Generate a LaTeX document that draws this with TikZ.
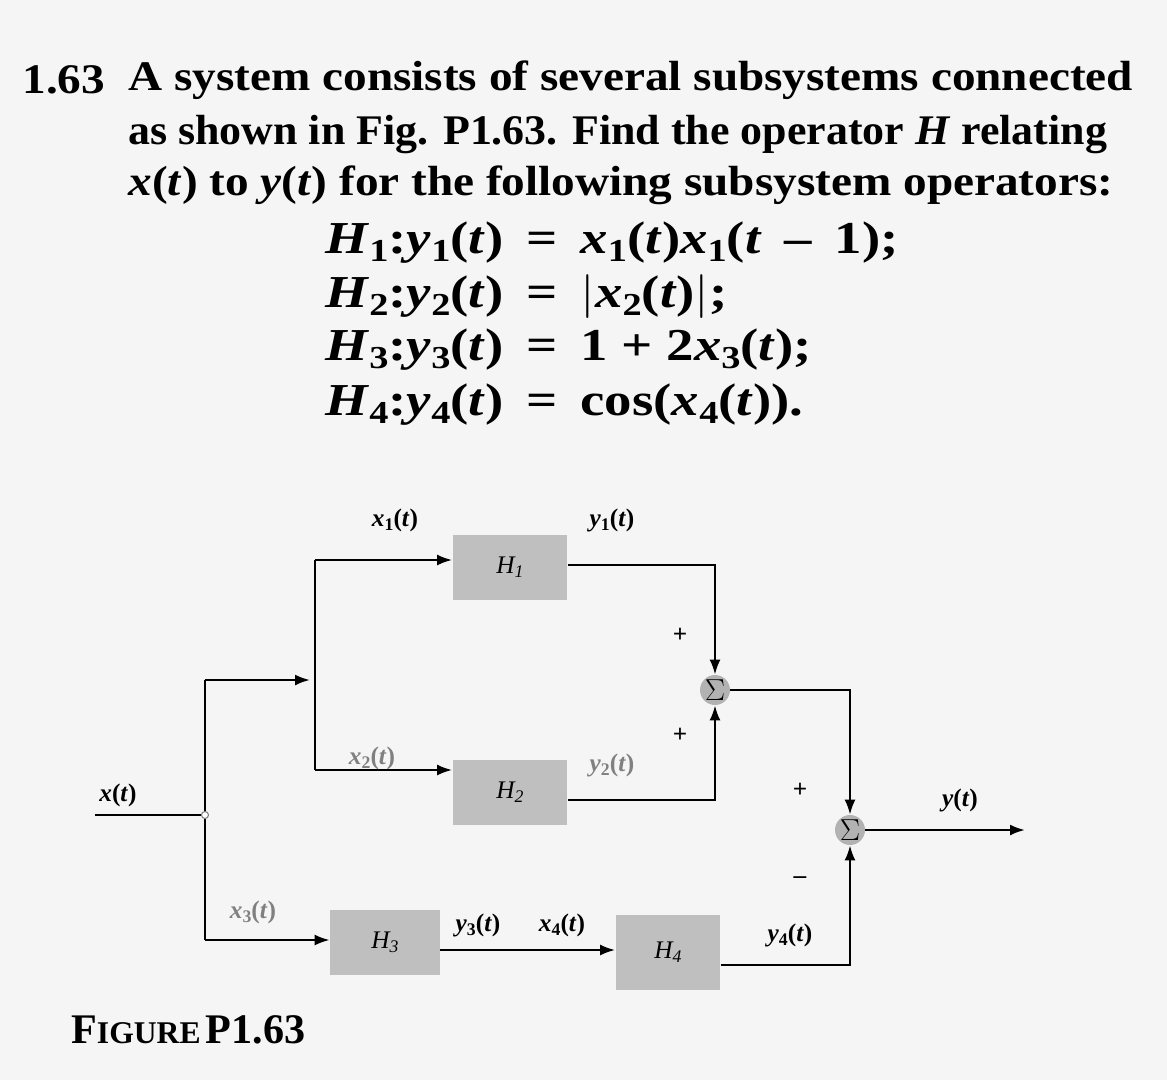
\documentclass[tikz,border=0pt]{standalone}
\usepackage{fontspec}
\setmainfont{Liberation Serif}
\usetikzlibrary{arrows.meta}
\newcommand{\sbs}[1]{\raisebox{-0.35ex}{\scalebox{0.7}{#1}}}
\begin{document}
\begin{tikzpicture}[x=0.02cm,y=-0.02cm,
  blk/.style={fill=black!25,draw=none,minimum width=2.3cm,minimum height=1.3cm,font=\itshape\Large},
  sm/.style={circle,fill=black!30,minimum size=0.6cm,inner sep=0pt,font=\LARGE\bfseries},
  ln/.style={line width=1.3pt},
  ar/.style={ln,-{Latex[length=3mm,width=2.2mm]}},
  lab/.style={font=\Large\bfseries},
  txt/.style={font=\fontsize{24}{28}\selectfont\bfseries,anchor=west,inner sep=0pt,xscale=1.12},
  eq/.style={font=\fontsize{26}{28}\selectfont\bfseries,anchor=west,inner sep=0pt,xscale=1.2}]
\useasboundingbox[fill=black!4] (0,0) rectangle (1167,1080);
% text
\node[txt] (n) at (22,80) {1.63};
\node[txt] (l1) at (128,80) {A system consists of several subsystems connected};
\node[txt,xscale=0.93] (l2) at (128,135) {as shown in Fig. P1.63. Find the operator \textit{H} relating};
\node[txt] (l3) at (128,185) {\textit{x}(\textit{t}) to \textit{y}(\textit{t}) for the following subsystem operators:};
\node[eq] (e1) at (325,243) {\textit{H}\sbs{1}:\textit{y}\sbs{1}(\textit{t}) \,=\, \textit{x}\sbs{1}(\textit{t})\textit{x}\sbs{1}(\textit{t} \,–\, 1);};
\node[eq] (e2) at (325,297) {\textit{H}\sbs{2}:\textit{y}\sbs{2}(\textit{t}) \,=\, $|$\textit{x}\sbs{2}(\textit{t})$|$;};
\node[eq] (e3) at (325,350) {\textit{H}\sbs{3}:\textit{y}\sbs{3}(\textit{t}) \,=\, 1 + 2\textit{x}\sbs{3}(\textit{t});};
\node[eq] (e4) at (325,405) {\textit{H}\sbs{4}:\textit{y}\sbs{4}(\textit{t}) \,=\, cos(\textit{x}\sbs{4}(\textit{t})).};
% blocks
\node[blk] (H1) at (510,567) {H\sbs{1}};
\node[blk] (H2) at (510,792) {H\sbs{2}};
\node[blk,minimum width=2.2cm] (H3) at (385,942) {H\sbs{3}};
\node[blk,minimum width=2.1cm,minimum height=1.5cm] (H4) at (668,952) {H\sbs{4}};
\node[sm] (S1) at (715,690) {$\Sigma$};
\node[sm] (S2) at (850,830) {$\Sigma$};
\coordinate (in) at (95,815);
\coordinate (j) at (205,815);
\coordinate (out) at (1025,830);
\draw[ln] (in) -- (j);
\draw[ln] (205,680) -- (205,940);
\draw[black!50,fill=white,line width=0.6pt] (j) circle (3.5);
\draw[ar] (205,680) -- (310,680);
\draw[ln] (315,560) -- (315,770);
\draw[ar] (315,560) -- (H1.west |- 0,560);
\draw[ar] (315,770) -- (H2.west |- 0,770);
\draw[ar] (205,940) -- (H3.west |- 0,940);
\draw[ar] (H1.east |- 0,565) -- (715,565) -- (S1.north);
\draw[ar] (H2.east |- 0,800) -- (715,800) -- (S1.south);
\draw[ar] (S1.east) -- (850,690) -- (S2.north);
\draw[ar] (H3.east |- 0,950) -- (H4.west |- 0,950);
\draw[ar] (H4.east |- 0,965) -- (850,965) -- (S2.south);
\draw[ar] (S2.east) -- (out);
% labels
\node[lab] (lx) at (118,795) {\textit{x}(\textit{t})};
\node[lab] (ly) at (960,800) {\textit{y}(\textit{t})};
\node[lab] (lx1) at (395,520) {\textit{x}\sbs{1}(\textit{t})};
\node[lab] (ly1) at (612,520) {\textit{y}\sbs{1}(\textit{t})};
\node[lab,black!50] (lx2) at (372,758) {\textit{x}\sbs{2}(\textit{t})};
\node[lab,black!50] (ly2) at (612,765) {\textit{y}\sbs{2}(\textit{t})};
\node[lab,black!50] (lx3) at (253,912) {\textit{x}\sbs{3}(\textit{t})};
\node[lab] (ly3) at (478,925) {\textit{y}\sbs{3}(\textit{t})};
\node[lab] (lx4) at (562,925) {\textit{x}\sbs{4}(\textit{t})};
\node[lab] (ly4) at (790,935) {\textit{y}\sbs{4}(\textit{t})};
\node[lab] (p1) at (680,635) {+};
\node[lab] (p2) at (680,735) {+};
\node[lab] (p3) at (800,790) {+};
\node[lab] (m) at (800,880) {–};
\node[font=\bfseries,anchor=west] (fig) at (65,1030) {{\fontsize{24}{26}\selectfont F}{\fontsize{18}{20}\selectfont IGURE}\hspace{0.3em}{\fontsize{24}{26}\selectfont P1.63}};
\end{tikzpicture}
\end{document}
